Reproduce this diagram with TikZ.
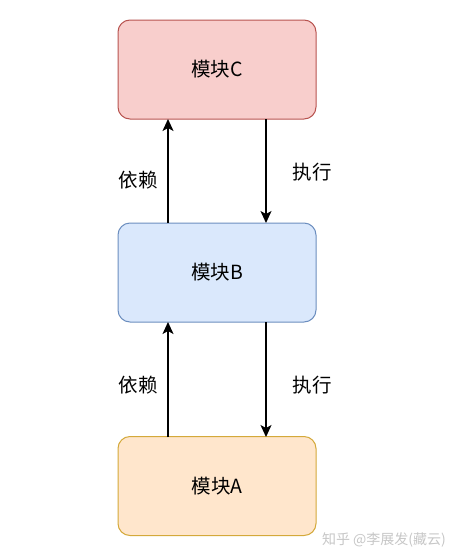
\documentclass[tikz,border=0pt]{standalone}
\usepackage{fontspec}
\setmainfont{Noto Sans CJK SC}
\usetikzlibrary{arrows.meta}
\definecolor{cfill}{HTML}{F8CECC}\definecolor{cdraw}{HTML}{B85450}
\definecolor{bfill}{HTML}{DAE8FC}\definecolor{bdraw}{HTML}{6C8EBF}
\definecolor{afill}{HTML}{FFE6CC}\definecolor{adraw}{HTML}{D4A93A}
\begin{document}
\begin{tikzpicture}[x=1pt,y=-1pt,
  modbox/.style={rounded corners=12pt,minimum width=198pt,minimum height=99pt,line width=1pt,inner sep=0pt,font=\fontsize{19.5}{22}\selectfont},
  conn/.style={line width=1.3pt,-{Stealth[length=12pt,width=11pt,inset=3pt]}},
  lbl/.style={font=\fontsize{19.5}{22}\selectfont,inner sep=0pt}]
\fill[white] (0,0) rectangle (454,560);
\useasboundingbox (0,0) rectangle (454,560);
\node[modbox,fill=cfill,draw=cdraw] (C) at (217,69.5) {模块C};
\node[modbox,fill=bfill,draw=bdraw] (B) at (217,272.5) {模块B};
\node[modbox,fill=afill,draw=adraw] (A) at (217,486) {模块A};
\coordinate (b1) at (168,223);
\coordinate (c1) at (168,119);
\coordinate (c2) at (266,119);
\coordinate (b2) at (266,223);
\coordinate (a1) at (168,437);
\coordinate (b3) at (168,322);
\coordinate (b4) at (266,322);
\coordinate (a2) at (266,437);
\draw[conn] (b1) -- (c1);
\draw[conn] (c2) -- (b2);
\draw[conn] (a1) -- (b3);
\draw[conn] (b4) -- (a2);
\node[lbl] (l1) at (138,180) {依赖};
\node[lbl] (l2) at (312,172) {执行};
\node[lbl] (l3) at (138,385) {依赖};
\node[lbl] (l4) at (312,385) {执行};
\node[font=\fontsize{14}{16}\selectfont,text=black!22,inner sep=0pt] (wm) at (384,540) {知乎 @李展发(藏云)};
\end{tikzpicture}
\end{document}
